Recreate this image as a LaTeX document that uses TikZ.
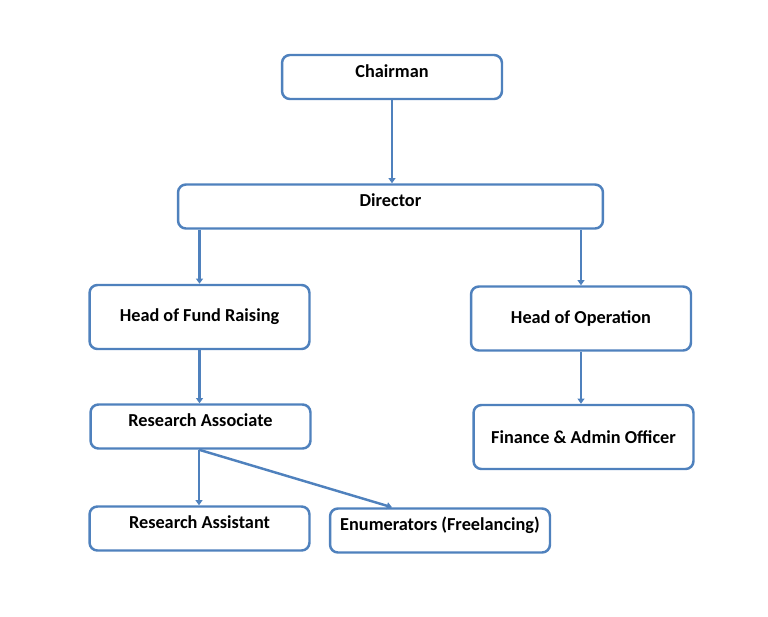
\documentclass[tikz,border=0pt]{standalone}
\usepackage{fontspec}
\setmainfont{Carlito}
\usetikzlibrary{arrows.meta}
\definecolor{orgblue}{RGB}{79,129,189}
\tikzset{
  orgarr/.style={-{Triangle[length=3pt,width=4pt]},line width=1.4pt,draw=orgblue},
  unit/.style={draw=orgblue,line width=1.4pt,rounded corners=4.5pt,fill=white,
               align=center,inner sep=0pt,minimum width=4.4cm,
               font=\fontsize{10.4}{12}\selectfont\bfseries},
  unittop/.style={unit,text height=7pt,text depth=7pt,minimum height=0.88cm},
  unitmid/.style={unit,minimum height=1.28cm}
}

\begin{document}
\begin{tikzpicture}[x=0.02cm,y=-0.02cm]
\useasboundingbox (0,0) rectangle (768,616);
\node[unittop] (chair) at (392,77)    {Chairman};
\node[unittop, minimum width=8.5cm] (dir) at (390.5,206.5) {Director};
\node[unitmid] (fund)  at (199.5,317) {Head of Fund Raising};
\node[unitmid] (oper)  at (581,318.5) {Head of Operation};
\node[unittop] (assoc) at (200.5,426.5) {Research Associate};
\node[unitmid] (fin)   at (583.5,437) {Finance \& Admin Officer};
\node[unittop] (asst)  at (199.5,528.5) {Research Assistant};
\node[unittop] (enum)  at (440,530.5) {Enumerators (Freelancing)};

\draw[orgarr] (chair.south) -- (chair.south |- dir.north);
\draw[orgarr] (dir.south -| fund.north) -- (fund.north);
\draw[orgarr] (dir.south -| oper.north) -- (oper.north);
\draw[orgarr] (fund.south) -- (fund.south |- assoc.north);
\draw[orgarr] (oper.south) -- (oper.south |- fin.north);
\draw[orgarr] ([xshift=-0.03cm]assoc.south) -- ([xshift=-0.03cm]assoc.south |- asst.north);
\draw[orgarr] ([xshift=-0.03cm]assoc.south) -- ([xshift=-0.96cm]enum.north);
\end{tikzpicture}
\end{document}
